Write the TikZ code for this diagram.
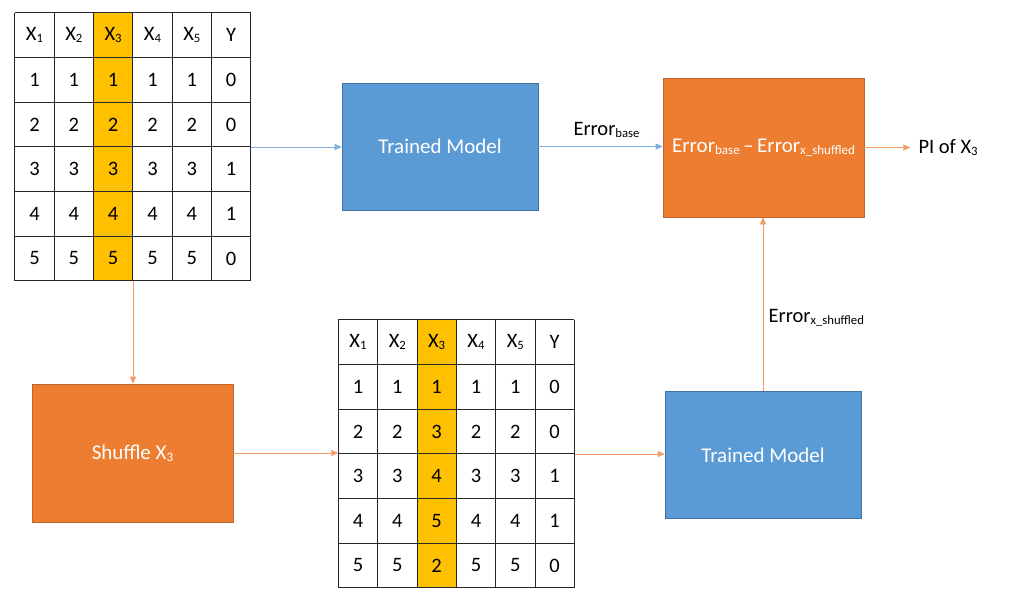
\documentclass[tikz,border=0pt]{standalone}
\usepackage{graphicx}
\usepackage{fontspec}
\setmainfont{Carlito}
\usetikzlibrary{arrows.meta,positioning}

\definecolor{boxblue}{HTML}{5B9BD5}
\definecolor{boxorange}{HTML}{ED7D31}
\definecolor{colgold}{HTML}{FFC000}
\definecolor{blueedge}{HTML}{41719C}
\definecolor{orangeedge}{HTML}{C0652A}
\newcommand{\sub}[1]{\raisebox{-0.2ex}{\scalebox{0.62}{#1}}}

\tikzset{
  tbl/.style={minimum width=236pt, minimum height=268pt, inner sep=0pt},
  cellt/.style={font=\fontsize{20.5}{24}\selectfont, inner sep=0pt},
  gridline/.style={draw=black!85, line width=0.8pt},
  modelbox/.style={fill=boxblue, draw=blueedge, line width=0.6pt, text=white,
    minimum width=196pt, minimum height=127pt, font=\fontsize{21}{24}\selectfont},
  opbox/.style={fill=boxorange, draw=orangeedge, line width=0.6pt, text=white,
    minimum width=201pt, minimum height=138pt, font=\fontsize{21}{24}\selectfont},
  bluearr/.style={draw=boxblue!80, line width=0.6pt, -{Triangle[length=7pt,width=6pt]}},
  orangearr/.style={draw=boxorange!75, line width=0.6pt, -{Triangle[length=7pt,width=6pt]}},
  lbl/.style={font=\fontsize{20.5}{24}\selectfont}
}

\begin{document}
\begin{tikzpicture}[x=1pt,y=-1pt]
\useasboundingbox (0,0) rectangle (1024,605);

% the two data tables
\node[tbl] (tabA) at (133,147) {};
\node[tbl] (tabB) at (456.5,454) {};
\foreach \t/\mid in {tabA/{1,2,3,4,5}, tabB/{1,3,4,5,2}} {
  \begin{scope}[shift={(\t.north west)}]
    \fill[colgold] (78.667,0) rectangle (118,268);
    \foreach \i in {0,...,6} {
      \draw[gridline] (\i*39.333,0) -- (\i*39.333,268);
      \draw[gridline] (0,\i*44.667) -- (236,\i*44.667);
    }
    \foreach \h [count=\c] in {X\sub{1},X\sub{2},X\sub{3},X\sub{4},X\sub{5},Y}
      \node[cellt] (\t-0-\c) at ({(\c-0.5)*39.333},22.333) {\h};
    \foreach \y [count=\r] in {0,0,1,1,0} {
      \foreach \c in {1,2,4,5}
        \node[cellt] (\t-\r-\c) at ({(\c-0.5)*39.333},{(\r+0.5)*44.667}) {\r};
      \node[cellt] (\t-\r-6) at ({5.5*39.333},{(\r+0.5)*44.667}) {\y};
    }
    \foreach \v [count=\r] in \mid
      \node[cellt] (\t-\r-3) at ({2.5*39.333},{(\r+0.5)*44.667}) {\v};
  \end{scope}
}

% boxes
\node[modelbox] (modelA) at (440,146.5) {Trained Model};
\node[opbox, minimum height=139pt] (diff) at (763.5,147.5) {Error\sub{base}\,--\,Error\sub{x\_shuffled}};
\node[modelbox] (modelB) at (763,455) {Trained Model};
\node[opbox] (shuffle) at (132.5,453) {Shuffle X\sub{3}};
\node[lbl, right=52pt of diff, inner sep=2pt] (pi) {PI of X\sub{3}};

% connectors
\draw[bluearr] (tabA.east) -- (tabA.east -| modelA.west);
\draw[bluearr] (modelA.east) -- (modelA.east -| diff.west)
  node[lbl, midway, above=5pt, xshift=6pt] (errbase) {Error\sub{base}};
\draw[orangearr] (diff.east) -- ([xshift=-6pt]pi.west);
\draw[orangearr] (modelB.north) -- (modelB.north |- diff.south)
  node[lbl, pos=0.42, right=2pt] (errshuf) {Error\sub{x\_shuffled}};
\draw[orangearr] (tabA.south) -- (tabA.south |- shuffle.north);
\draw[orangearr] (shuffle.east) -- (shuffle.east -| tabB.west);
\draw[orangearr] (tabB.east) -- (tabB.east -| modelB.west);
\end{tikzpicture}
\end{document}
